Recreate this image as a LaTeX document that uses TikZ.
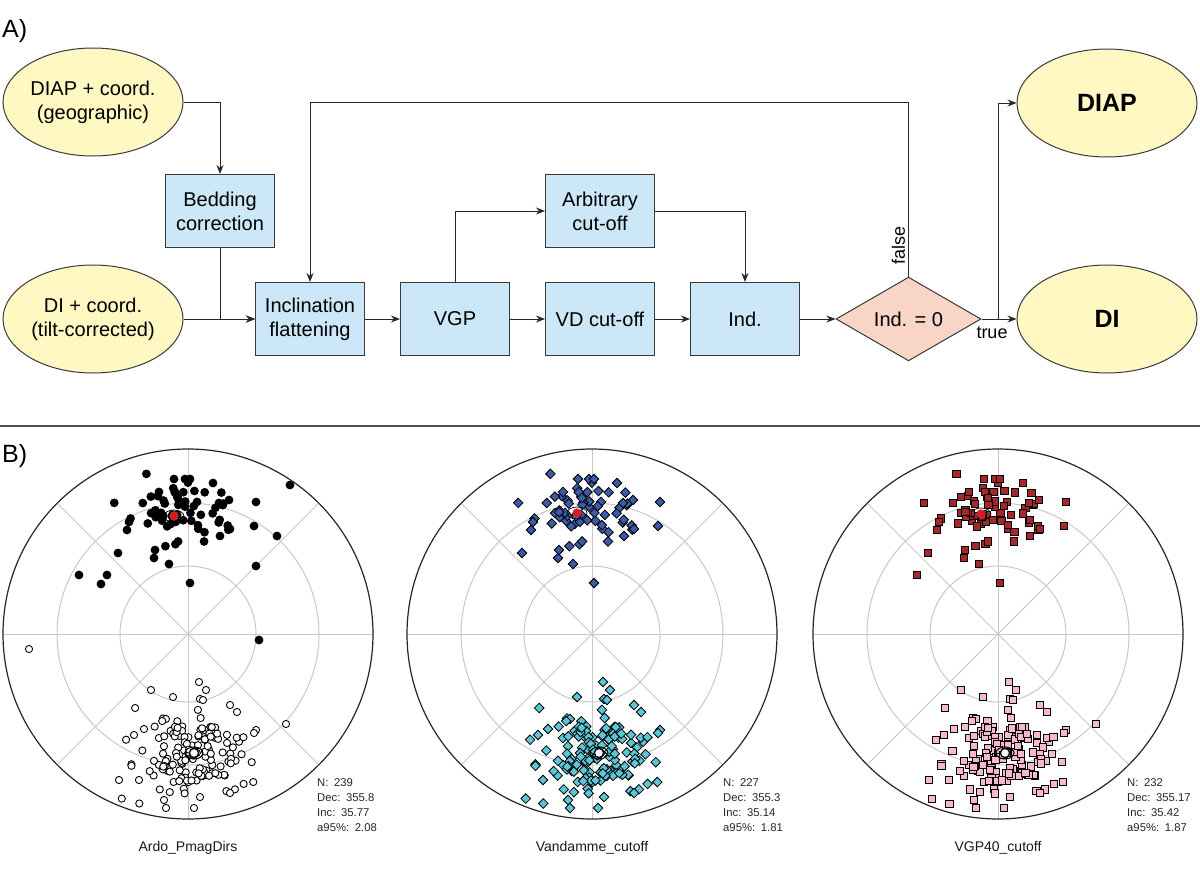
\documentclass[tikz,border=0pt]{standalone}
\usepackage{fontspec}
\setmainfont{Liberation Sans}
\usetikzlibrary{shapes.geometric,arrows.meta}
\definecolor{ellfill}{HTML}{FFF8C2}
\definecolor{boxfill}{HTML}{CCE8F8}
\definecolor{diafill}{HTML}{F8D5C6}
\definecolor{edgec}{HTML}{3A3A3A}
\definecolor{gridc}{HTML}{C8C8C8}
\definecolor{dblue}{HTML}{3C5AA6}
\definecolor{cyanp}{HTML}{5CC6D6}
\definecolor{dred}{HTML}{A3282A}
\definecolor{pinkp}{HTML}{F5B9CA}
\definecolor{meanred}{HTML}{E8141C}
\tikzset{
 ell/.style={ellipse, draw=edgec, fill=ellfill, line width=1pt, minimum width=180pt, minimum height=108pt, inner sep=0pt, align=center, font=\fontsize{20}{24}\selectfont},
 proc/.style={rectangle, draw=edgec, fill=boxfill, line width=1pt, minimum width=109pt, minimum height=73pt, inner sep=0pt, align=center, font=\fontsize{20}{24}\selectfont},
 dec/.style={diamond, draw=edgec, fill=diafill, line width=1pt, minimum width=145pt, minimum height=72pt, inner sep=0pt, font=\fontsize{20}{24}\selectfont},
 arr/.style={draw=black!85, line width=1pt, -{Stealth[length=9pt,width=7pt]}},
 lbl/.style={font=\fontsize{18}{20}\selectfont, inner sep=2pt},
 gridln/.style={draw=gridc, line width=1pt},
 statst/.style={anchor=north west, align=left, font=\fontsize{11.3}{15}\selectfont, inner sep=0pt, text=black!85},
 netname/.style={font=\fontsize{14}{16}\selectfont, inner sep=0pt, text=black!90},
}
% markers
\def\mkdotA#1#2{\fill[black] (#1,#2) circle (4.4);}
\def\mkopenA#1#2{\filldraw[fill=white,draw=black,line width=0.9pt] (#1,#2) circle (3.6);}
\def\mkdiaB#1#2{\filldraw[fill=dblue,draw=black,line width=0.8pt] (#1,#2) ++(0,-4.8) -- ++(4.8,4.8) -- ++(-4.8,4.8) -- ++(-4.8,-4.8) -- cycle;}
\def\mkdiaC#1#2{\filldraw[fill=cyanp,draw=black,line width=0.8pt] (#1,#2) ++(0,-4.8) -- ++(4.8,4.8) -- ++(-4.8,4.8) -- ++(-4.8,-4.8) -- cycle;}
\def\mksqB#1#2{\filldraw[fill=dred,draw=black,line width=0.8pt] (#1,#2) ++(-3.6,-3.6) rectangle ++(7.2,7.2);}
\def\mksqC#1#2{\filldraw[fill=pinkp,draw=black,line width=0.8pt] (#1,#2) ++(-3.6,-3.6) rectangle ++(7.2,7.2);}
\newcommand\netpts[1]{%
  \pgfmathsetseed{4711}%
  \foreach \i in {1,...,58}{%
    \pgfmathsetmacro\px{-10+25*(rand+rand+rand)}%
    \pgfmathsetmacro\py{-123+15*(rand+rand+rand)}%
    \mktop{\px}{\py}}%
  \foreach \p/\q in {68/-132,66/-108,42/-105,41/-134,31/-131,32/-98,25/-151,-70/-81,2/-51,-19/-70,-34/-76,-33/-84,-61/-104,-59/-112,-3/-155,2/-155,-14/-155}{\mktop{\p}{\q}}%
  \ifnum#1=1 \foreach \p/\q in {102/-149,89/-98,68/-68,-109/-59,-87/-50,71/6}{\mktop{\p}{\q}}\fi
  \ifnum#1=2 \else \mktop{-81}{-59}\fi
  \pgfmathsetseed{2024}%
  \foreach \i in {1,...,136}{%
    \pgfmathsetmacro\px{3+26*(rand+rand+rand)}%
    \pgfmathsetmacro\py{120+19*(rand+rand+rand)}%
    \mkbot{\px}{\py}}%
  \foreach \p/\q in {11/48,18/56,12/65,15/66,-15/63,-49/146,-24/166,-22/174,6/174,12/163,42/159,68/96,66/99,49/78,42/71,-54/101,-44/95}{\mkbot{\p}{\q}}%
  \ifnum#1=1 \mkbot{-159}{15}\fi
  \ifnum#1=2 \else \mkbot{98}{90}\mkbot{-37}{56}\mkbot{-69}{146}\fi
}
\newcommand\netgrid{%
  \draw[gridln] (0,0) circle (68) (0,0) circle (131);
  \foreach \a in {0,45,90,135} \draw[gridln] (\a:185) -- (\a+180:185);
}
\newcommand\netmeans[4]{%
  \draw[black, line width=0.7pt] (#1,#2) ellipse (10 and 6);
  \filldraw[fill=meanred, draw=black!60, line width=0.4pt] (#1,#2) circle (4.4);
  \draw[black, line width=1pt] (#3,#4) ellipse (9 and 6);
  \filldraw[fill=white, draw=black, line width=1.3pt] (#3,#4) circle (4.6);
}
\begin{document}
\begin{tikzpicture}[x=1pt,y=-1pt]
\useasboundingbox (0,0) rectangle (1200,873);
\fill[white] (0,0) rectangle (1200,873);
% ---------- A) flowchart ----------
\node[anchor=base west, font=\fontsize{25}{28}\selectfont, inner sep=0pt] (labA) at (2,37) {A)};
\node[ell] (e1) at (93,102) {DIAP + coord.\\(geographic)};
\node[ell] (e2) at (93,319) {DI + coord.\\(tilt-corrected)};
\node[proc] (bed) at (220,211) {Bedding\\correction};
\node[proc] (infl) at (310,319) {Inclination\\flattening};
\node[proc] (vgp) at (455,319) {VGP};
\node[proc] (arb) at (600,211) {Arbitrary\\cut-off};
\node[proc] (vd) at (600,319) {VD cut-off};
\node[proc] (ind) at (745,319) {Ind.};
\node[dec] (dia) at (908.5,319) {Ind. = 0};
\node[ell, font=\fontsize{25}{28}\selectfont\bfseries] (diap) at (1107,103) {DIAP};
\node[ell, font=\fontsize{25}{28}\selectfont\bfseries] (di) at (1107,319) {DI};
\coordinate (fbk) at (310,102);
\coordinate (br) at (998,319);
\draw[arr] (e1.east) -| (bed.north);
\draw[arr] (bed.south) |- (infl.west);
\draw[arr] (e2.east) -- (infl.west);
\draw[arr] (infl.east) -- (vgp.west);
\draw[arr] (vgp.north) |- (arb.west);
\draw[arr] (vgp.east) -- (vd.west);
\draw[arr] (arb.east) -| (ind.north);
\draw[arr] (vd.east) -- (ind.west);
\draw[arr] (ind.east) -- (dia.west);
\draw[arr] (dia.north) -- node[lbl, pos=0.18, rotate=90, anchor=south, inner sep=3pt] (lfalse) {false} (dia.north |- fbk) -- (fbk) -- (infl.north);
\draw[arr] (dia.east) -- node[lbl, pos=0.3, below=5pt] (ltrue) {true} (di.west);
\draw[arr] (br) |- (diap.west);
% separator
\coordinate (sepL) at (0,426);
\coordinate (sepR) at (1200,426);
\draw[line width=1.5pt, black!70] (sepL) -- (sepR);
% ---------- B) stereonets ----------
\node[anchor=base west, font=\fontsize{25}{28}\selectfont, inner sep=0pt] (labB) at (2,462) {B)};
\begin{scope}[shift={(188,634)}]
  \netgrid
  \let\mktop\mkdotA \let\mkbot\mkopenA
  \netpts{1}
  \netmeans{-14}{-118}{6}{119}
  \draw[black!85, line width=1.2pt] (0,0) circle (185);
  \node[statst] (st1) at (129,144) {N:\enspace 239\\Dec:\enspace 355.8\\Inc:\enspace 35.77\\a95\%:\enspace 2.08};
  \node[netname] (nm1) at (0,214) {Ardo\_PmagDirs};
\end{scope}
\begin{scope}[shift={(592,634)}]
  \netgrid
  \let\mktop\mkdiaB \let\mkbot\mkdiaC
  \netpts{2}
  \netmeans{-15}{-121}{7}{119}
  \draw[black!85, line width=1.2pt] (0,0) circle (185);
  \node[statst] (st2) at (131,144) {N:\enspace 227\\Dec:\enspace 355.3\\Inc:\enspace 35.14\\a95\%:\enspace 1.81};
  \node[netname] (nm2) at (0,214) {Vandamme\_cutoff};
\end{scope}
\begin{scope}[shift={(998,634)}]
  \netgrid
  \let\mktop\mksqB \let\mkbot\mksqC
  \netpts{3}
  \netmeans{-17}{-120}{7}{119}
  \draw[black!85, line width=1.2pt] (0,0) circle (185);
  \node[statst] (st3) at (129,144) {N:\enspace 232\\Dec:\enspace 355.17\\Inc:\enspace 35.42\\a95\%:\enspace 1.87};
  \node[netname] (nm3) at (0,214) {VGP40\_cutoff};
\end{scope}
\end{tikzpicture}
\end{document}
